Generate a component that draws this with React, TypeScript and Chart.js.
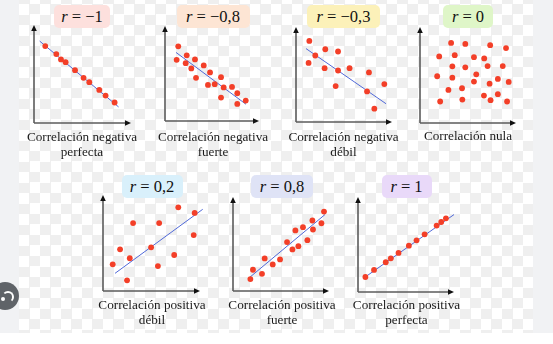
import React, { useEffect, useRef } from "react";
import { Chart, registerables } from "chart.js";

Chart.register(...registerables);

// ---- data (abstract units, axes from 0 to 10) ----
const rValues = ["−1", "−0,8", "−0,3", "0", "0,2", "0,8", "1"];
const captions: string[][] = [
  ["Correlación negativa", "perfecta"],
  ["Correlación negativa", "fuerte"],
  ["Correlación negativa", "débil"],
  ["Correlación nula"],
  ["Correlación positiva", "débil"],
  ["Correlación positiva", "fuerte"],
  ["Correlación positiva", "perfecta"],
];

const x1 = [1.16, 2.3, 2.78, 3.26, 4.23, 5.11, 5.7, 6.73, 7.38, 8.31];
const y1 = [7.85, 7.03, 6.49, 6.21, 5.39, 4.61, 4.17, 3.38, 2.8, 2.09];
const fitX1 = [0.58, 8.72];
const fitY1 = [8.36, 1.64];

const x2 = [1.41, 1.24, 2.31, 2.2, 3.19, 2.8, 4.12, 3.3, 4.79, 4.57, 5.29, 5.96, 6.24, 5.96, 7.13, 7.69, 7.69, 8.59];
const y2 = [7.86, 6.44, 6.91, 6.09, 6.48, 5.53, 5.85, 4.54, 5.11, 3.8, 3.88, 4.61, 3.53, 2.47, 3.59, 2.92, 1.8, 2.15];
const fitX2 = [1.17, 8.62];
const fitY2 = [7.22, 1.76];

const x3 = [1.39, 1.31, 2.01, 3.05, 2.98, 4.38, 4.38, 4.13, 5.58, 7.6, 7.4, 8.16, 9.2];
const y3 = [8.53, 6.22, 7.0, 7.66, 5.67, 7.42, 5.42, 3.78, 5.67, 5.22, 3.22, 1.4, 3.99];
const fitX3 = [1.04, 9.38];
const fitY3 = [7.73, 1.92];

const x4 = [3.24, 4.72, 7.31, 8.96, 2.0, 3.62, 5.62, 6.69, 3.37, 4.72, 7.04, 8.62, 1.79, 3.37, 5.86, 5.62, 8.11, 7.25, 9.24, 2.96, 4.38, 2.1, 4.41, 6.66, 8.11, 7.35, 9.07];
const y4 = [8.34, 8.24, 8.11, 7.8, 6.94, 7.07, 6.86, 6.73, 5.9, 5.8, 5.93, 5.93, 4.87, 4.72, 5.07, 4.31, 4.59, 4.1, 4.28, 3.45, 3.62, 2.24, 2.44, 2.86, 3.0, 2.38, 2.24];
const fitX4: number[] = [];
const fitY4: number[] = [];

const x5 = [7.76, 9.45, 3.1, 5.79, 9.35, 4.96, 1.76, 2.76, 7.34, 1.0, 5.66, 2.48];
const y5 = [8.72, 8.13, 7.08, 7.08, 5.83, 4.55, 4.34, 3.41, 3.75, 2.78, 2.6, 1.11];
const fitX5 = [1.24, 10.28];
const fitY5 = [1.84, 8.51];

const x6 = [9.48, 8.27, 9.21, 7.29, 6.5, 8.33, 7.75, 5.63, 6.81, 6.19, 4.9, 3.3, 4.14, 2.08, 3.02, 1.81];
const y6 = [8.45, 7.5, 7.21, 6.79, 6.44, 6.54, 5.41, 5.2, 4.77, 4.42, 3.36, 3.47, 2.83, 2.26, 1.83, 1.27];
const fitX6 = [1.74, 9.58];
const fitY6 = [1.45, 8.13];

const x7 = [0.77, 1.67, 2.89, 3.42, 4.22, 5.3, 6.1, 6.94, 8.19, 8.67, 9.16];
const y7 = [1.58, 2.32, 3.13, 3.55, 4.11, 4.88, 5.44, 6.07, 6.99, 7.37, 7.76];
const fitX7 = [0.52, 10.0];
const fitY7 = [1.41, 8.15];

const seriesX = [x1, x2, x3, x4, x5, x6, x7];
const seriesY = [y1, y2, y3, y4, y5, y6, y7];
const fitXs = [fitX1, fitX2, fitX3, fitX4, fitX5, fitX6, fitX7];
const fitYs = [fitY1, fitY2, fitY3, fitY4, fitY5, fitY6, fitY7];

// ---- layout (page pixels) ----
const panels = [
  { L: 34, T: 25, W: 97, H: 98, cx: 82, boxW: 56, boxT: 5, labT: 130, bg: "#fde0dd" },
  { L: 165, T: 26, W: 94, H: 95, cx: 213, boxW: 73, boxT: 5, labT: 130, bg: "#fde5d4" },
  { L: 296, T: 27, W: 96, H: 95, cx: 343.5, boxW: 73, boxT: 5, labT: 130, bg: "#fcf1b9" },
  { L: 420, T: 27, W: 96, H: 96, cx: 468, boxW: 50, boxT: 5, labT: 129, bg: "#dff6c8" },
  { L: 103, T: 195, W: 97, H: 96, cx: 152, boxW: 61, boxT: 175, labT: 298, bg: "#d9f0fb" },
  { L: 233, T: 197, W: 96, H: 94, cx: 282, boxW: 62, boxT: 175, labT: 298, bg: "#dfe3f6" },
  { L: 358, T: 197, W: 96, H: 95, cx: 406.5, boxW: 50, boxT: 175, labT: 298, bg: "#e9d9f9" },
];

const PAD = 8;

const arrowAxes = {
  id: "arrowAxes",
  beforeDatasetsDraw(chart: any) {
    const { ctx, scales } = chart;
    const left = scales.x.getPixelForValue(0);
    const right = scales.x.getPixelForValue(10);
    const bottom = scales.y.getPixelForValue(0);
    const top = scales.y.getPixelForValue(10);
    ctx.save();
    ctx.strokeStyle = "#5c5c5c";
    ctx.lineWidth = 1.6;
    ctx.beginPath();
    ctx.moveTo(left, bottom);
    ctx.lineTo(left, top + 4);
    ctx.moveTo(left, bottom);
    ctx.lineTo(right - 4, bottom);
    ctx.stroke();
    ctx.fillStyle = "#111";
    ctx.beginPath();
    ctx.moveTo(left, top);
    ctx.lineTo(left - 2.8, top + 6);
    ctx.lineTo(left + 2.8, top + 6);
    ctx.closePath();
    ctx.fill();
    ctx.beginPath();
    ctx.moveTo(right, bottom);
    ctx.lineTo(right - 6, bottom - 2.8);
    ctx.lineTo(right - 6, bottom + 2.8);
    ctx.closePath();
    ctx.fill();
    ctx.restore();
  },
};

function Panel({ i }: { i: number }) {
  const ref = useRef<HTMLCanvasElement | null>(null);
  const p = panels[i];
  useEffect(() => {
    if (!ref.current) return;
    const pts = seriesX[i].map((x, k) => ({ x, y: seriesY[i][k] }));
    const fit = fitXs[i].map((x, k) => ({ x, y: fitYs[i][k] }));
    const datasets: any[] = [
      {
        data: pts,
        pointRadius: 2.9,
        pointBackgroundColor: "#f33f28",
        pointBorderWidth: 0,
        clip: false,
        order: 0,
      },
    ];
    if (fit.length) {
      datasets.push({
        data: fit,
        showLine: true,
        borderColor: "#5069d8",
        borderWidth: 1,
        pointRadius: 0,
        clip: false,
        order: 1,
      });
    }
    const chart = new Chart(ref.current, {
      type: "scatter",
      data: { datasets },
      options: {
        animation: false,
        responsive: false,
        devicePixelRatio: 1,
        events: [],
        layout: { padding: PAD },
        scales: {
          x: { type: "linear", min: 0, max: 10, display: false },
          y: { type: "linear", min: 0, max: 10, display: false },
        },
        plugins: { legend: { display: false }, tooltip: { enabled: false } },
      },
      plugins: [arrowAxes],
    } as any);
    return () => chart.destroy();
  }, [i]);

  return (
    <>
      <div
        style={{
          position: "absolute",
          left: p.cx - p.boxW / 2,
          top: p.boxT,
          width: p.boxW,
          height: 23,
          borderRadius: 5,
          background: p.bg,
          display: "flex",
          alignItems: "center",
          justifyContent: "center",
          fontFamily: "'Liberation Serif', serif",
          fontSize: 16.5,
          color: "#111",
          whiteSpace: "pre",
        }}
      >
        <span>
          <i>r</i>
          {" = " + rValues[i]}
        </span>
      </div>
      <canvas
        ref={ref}
        width={p.W + 2 * PAD}
        height={p.H + 2 * PAD}
        style={{ position: "absolute", left: p.L - PAD, top: p.T - PAD, width: p.W + 2 * PAD, height: p.H + 2 * PAD }}
      />
      <div
        style={{
          position: "absolute",
          left: p.cx - 80,
          top: p.labT,
          width: 160,
          textAlign: "center",
          fontFamily: "'Liberation Serif', serif",
          fontSize: 13.2,
          lineHeight: "14.5px",
          color: "#1a1a1a",
        }}
      >
        {captions[i].map((c, k) => (
          <div key={k}>{c}</div>
        ))}
      </div>
    </>
  );
}

export default function App() {
  return (
    <div style={{ position: "fixed", left: 0, top: 0, width: 553, height: 344, background: "#fff", overflow: "hidden" }}>
      <div
        style={{
          position: "absolute",
          left: 19,
          top: 0,
          width: 514,
          height: 333,
          backgroundColor: "#fff",
          backgroundImage: "repeating-conic-gradient(#efefef 0% 25%, #ffffff 0% 50%)",
          backgroundSize: "21px 21px",
          backgroundPosition: "0px 4px",
        }}
      />
      <div style={{ position: "absolute", left: 0, top: 0, width: 19, height: 333, background: "#f1f2f4" }} />
      <div style={{ position: "absolute", left: 533, top: 0, width: 20, height: 333, background: "#f1f2f4" }} />
      <div
        style={{
          position: "absolute",
          left: -9,
          top: 282,
          width: 28,
          height: 28,
          borderRadius: "50%",
          background: "#5f6368",
        }}
      >
        <div style={{ position: "absolute", left: 11, top: 9, width: 8, height: 8, borderRadius: "50%", border: "2px solid #fff", borderLeftColor: "transparent", borderBottomColor: "transparent" }} />
        <div style={{ position: "absolute", left: 10, top: 15, width: 4, height: 4, borderRadius: "50%", background: "#fff" }} />
      </div>
      {panels.map((_, i) => (
        <Panel key={i} i={i} />
      ))}
    </div>
  );
}
